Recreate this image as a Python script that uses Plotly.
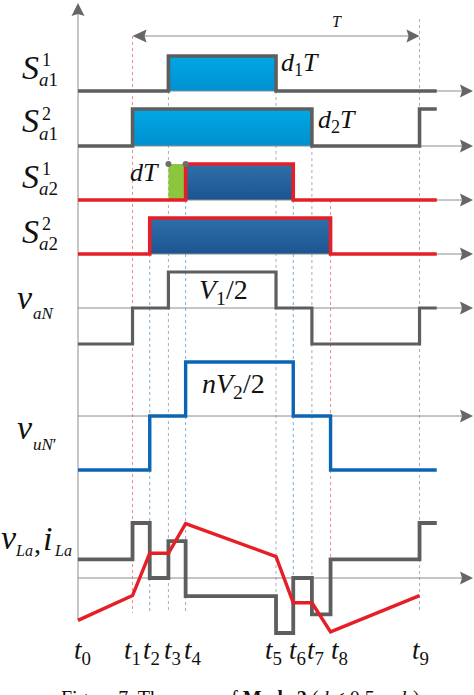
import plotly.graph_objects as go

# ------------------------------------------------------------------ data
T_NAMES = ["0", "1", "2", "3", "4", "5", "6", "7", "8", "9"]
T_MARKS = [0.0, 0.19, 0.25, 0.315, 0.375, 0.69, 0.75, 0.815, 0.88, 1.19]
T_END = 1.25

S_A1_1_TIME = [0.0, 0.315, 0.69, 1.25]
S_A1_1_STATE = [0, 1, 0, 0]
S_A1_2_TIME = [0.0, 0.19, 0.815, 1.19, 1.25]
S_A1_2_STATE = [0, 1, 0, 1, 1]
S_A2_1_TIME = [0.0, 0.375, 0.75, 1.25]
S_A2_1_STATE = [0, 1, 0, 0]
S_A2_2_TIME = [0.0, 0.25, 0.88, 1.25]
S_A2_2_STATE = [0, 1, 0, 0]
DT_TIME = [0.315, 0.375]

V_AN_TIME = [0.0, 0.19, 0.315, 0.69, 0.815, 1.19, 1.25]
V_AN_LEVEL = [-1, 0, 1, 0, -1, 0, 0]
V_UN_TIME = [0.0, 0.25, 0.375, 0.75, 0.88, 1.25]
V_UN_LEVEL = [-1, 0, 1, 0, -1, -1]
V_LA_TIME = [0.0, 0.19, 0.25, 0.315, 0.375, 0.69, 0.75, 0.815, 0.88, 1.19, 1.25]
V_LA_LEVEL = [0.34, 1, 0, 0.67, -0.33, -1, 0, -0.66, 0.34, 1, 1]
I_LA_TIME = [0.0, 0.19, 0.25, 0.315, 0.375, 0.69, 0.75, 0.815, 0.88, 1.19]
I_LA_LEVEL = [-0.77, -0.32, 0.45, 0.45, 0.99, 0.39, -0.45, -0.45, -0.98, -0.32]

# ------------------------------------------------------------------ layout / style
W, H = 474, 695
X0_PX, PX_PER_T = 78, 287
TIP_T = (473 - X0_PX) / PX_PER_T
FONT = "Liberation Serif, Times New Roman, Times, serif"

GRAY = "#5e5e5e"
RED = "#e61e26"
BLUE = "#0b65b5"
AXC = "#8c8c8c"
HEADC = "#666666"
LIGHT_FILL = ["#0090d0", "#00a8e4"]
DARK_FILL = ["#1b5590", "#2f70aa"]
GREEN = "#8cc63f"

# channel: (axis id, baseline px, px per unit)
CH = {
    "sa1_1": ("y2", 91, 35),
    "sa1_2": ("y3", 146, 37),
    "sa2_1": ("y4", 200, 36),
    "sa2_2": ("y5", 254, 36),
    "van": ("y6", 308, 36),
    "vun": ("y7", 416, 54),
    "vla": ("y8", 578, 55),
}
TARROW_PX = 36
GUIDE_BOTTOM = 613
GUIDE_COL = {"red": "#ee8a8a", "blue": "#7aaedc", "gray": "#acacac"}
GUIDES = [(1, "red", TARROW_PX), (2, "blue", CH["sa2_2"][1]), (3, "gray", CH["sa1_1"][1]),
          (4, "blue", CH["sa2_1"][1]), (5, "gray", CH["sa1_1"][1]), (6, "blue", CH["sa2_1"][1]),
          (7, "gray", CH["sa1_2"][1]), (8, "red", CH["sa2_1"][1]), (9, "gray", 19)]
T_LABEL_SHIFT = [4, 0, 2, 4, 7, -3, 4, 4, 9, 1]

fig = go.Figure()


def pulses(times, states):
    out = []
    for i in range(len(times) - 1):
        if states[i] == 1 and times[i + 1] < T_END:
            out.append((times[i], times[i + 1]))
    return out


def add_fill(ax, a, b, colors=None, solid=None):
    kw = dict(fillcolor=solid or colors[1])
    if colors:
        kw["fillgradient"] = dict(type="vertical", colorscale=[[0, colors[0]], [1, colors[1]]])
    fig.add_trace(go.Scatter(x=[a, a, b, b, a], y=[0, 1, 1, 0, 0], yaxis=ax, mode="lines",
                             line=dict(width=0), fill="toself", hoverinfo="skip", **kw))


# fills
for key, tt, ss, col in [("sa1_1", S_A1_1_TIME, S_A1_1_STATE, LIGHT_FILL),
                         ("sa1_2", S_A1_2_TIME, S_A1_2_STATE, LIGHT_FILL),
                         ("sa2_1", S_A2_1_TIME, S_A2_1_STATE, DARK_FILL),
                         ("sa2_2", S_A2_2_TIME, S_A2_2_STATE, DARK_FILL)]:
    for a, b in pulses(tt, ss):
        add_fill(CH[key][0], a, b, colors=col)
add_fill(CH["sa2_1"][0], DT_TIME[0], DT_TIME[1], solid=GREEN)

# guide lines
for idx, col, top in GUIDES:
    fig.add_trace(go.Scatter(x=[T_MARKS[idx]] * 2, y=[top, GUIDE_BOTTOM], yaxis="y", mode="lines",
                             line=dict(color=GUIDE_COL[col], width=1, dash="dot"), hoverinfo="skip"))

# thin axes
for key, (ax, base, g) in CH.items():
    fig.add_trace(go.Scatter(x=[0, TIP_T - 8 / PX_PER_T], y=[0, 0], yaxis=ax, mode="lines",
                             line=dict(color=AXC, width=1), hoverinfo="skip"))
fig.add_trace(go.Scatter(x=[0, 0], y=[620, 12], yaxis="y", mode="lines",
                         line=dict(color=AXC, width=1), hoverinfo="skip"))
fig.add_trace(go.Scatter(x=[T_MARKS[1] + 8 / PX_PER_T, T_MARKS[9] - 8 / PX_PER_T], y=[TARROW_PX] * 2,
                         yaxis="y", mode="lines", line=dict(color=AXC, width=1), hoverinfo="skip"))

# signals
def step(key, tt, vv, color, width):
    fig.add_trace(go.Scatter(x=tt, y=vv, yaxis=CH[key][0], mode="lines", line_shape="hv",
                             line=dict(color=color, width=width), hoverinfo="skip"))

step("sa1_1", S_A1_1_TIME, S_A1_1_STATE, GRAY, 3.6)
step("sa1_2", S_A1_2_TIME, S_A1_2_STATE, GRAY, 3.6)
step("sa2_1", S_A2_1_TIME, S_A2_1_STATE, RED, 3.6)
step("sa2_2", S_A2_2_TIME, S_A2_2_STATE, RED, 3.6)
step("van", V_AN_TIME, V_AN_LEVEL, GRAY, 3.2)
step("vun", V_UN_TIME, V_UN_LEVEL, BLUE, 3.4)
step("vla", V_LA_TIME, V_LA_LEVEL, GRAY, 3.8)
fig.add_trace(go.Scatter(x=I_LA_TIME, y=I_LA_LEVEL, yaxis=CH["vla"][0], mode="lines",
                         line=dict(color=RED, width=3.4), hoverinfo="skip"))
fig.add_trace(go.Scatter(x=DT_TIME, y=[1, 1], yaxis=CH["sa2_1"][0], mode="markers",
                         marker=dict(color="#6e6e6e", size=6), hoverinfo="skip"))

# arrowheads
shapes = []
RIGHT = "M-13,-6.5 L0,0 L-13,6.5 L-11,0 Z"
for key, (ax, base, g) in CH.items():
    shapes.append(dict(type="path", xref="x", yref=ax, xsizemode="pixel", ysizemode="pixel",
                       xanchor=TIP_T, yanchor=0, path=RIGHT, fillcolor=HEADC, line=dict(width=0)))
shapes.append(dict(type="path", xref="x", yref="y", xsizemode="pixel", ysizemode="pixel",
                   xanchor=0, yanchor=3, path="M-6.5,-13 L0,0 L6.5,-13 L0,-11 Z",
                   fillcolor=HEADC, line=dict(width=0)))
shapes.append(dict(type="path", xref="x", yref="y", xsizemode="pixel", ysizemode="pixel",
                   xanchor=T_MARKS[1], yanchor=TARROW_PX, path="M14,-6.5 L0,0 L14,6.5 L12,0 Z",
                   fillcolor=HEADC, line=dict(width=0)))
shapes.append(dict(type="path", xref="x", yref="y", xsizemode="pixel", ysizemode="pixel",
                   xanchor=T_MARKS[9], yanchor=TARROW_PX, path=RIGHT,
                   fillcolor=HEADC, line=dict(width=0)))

# annotations
ann = []


def lab(text, xpx, ypx, size, xanchor="center"):
    ann.append(dict(text=text, x=xpx / W, y=1 - ypx / H, xref="paper", yref="paper",
                    xanchor=xanchor, yanchor="middle", showarrow=False,
                    font=dict(family=FONT, size=size, color="#111111")))


S_ROWS = [("1", "a1", 67), ("2", "a1", 121), ("1", "a2", 176), ("2", "a2", 231)]
for sup, sub, yc in S_ROWS:
    lab("<i>S</i>", 30, yc, 34)
    lab(sup, 40, yc - 7, 18, "left")
    lab("<i>a</i>" + sub[1], 37, yc + 12, 19, "left")

lab("<i>v</i>", 24.5, 298, 34)
lab("<i>aN</i>", 31, 314, 17, "left")
lab("<i>v</i>", 24.5, 427, 34)
lab("<i>uN</i>′", 31, 444, 17, "left")
lab("<i>v</i>", 8.5, 537, 34)
lab("<i>La</i>", 13, 550, 16, "left")
lab(",", 37, 543, 28)
lab("<i>i</i>", 47, 538, 34)
lab("<i>La</i>", 52, 550, 16, "left")

lab("<i>d</i><sub>1</sub><i>T</i>", 279, 64, 26, "left")
lab("<i>d</i><sub>2</sub><i>T</i>", 316, 121, 26, "left")
lab("<i>dT</i>", 161, 172, 26, "right")
lab("<i>T</i>", 337, 22, 16)
lab("<i>V</i><sub>1</sub>/2", 223, 291, 28)
lab("<i>nV</i><sub>2</sub>/2", 233, 385, 28)

for k, name in enumerate(T_NAMES):
    ann.append(dict(text="<i>t</i><sub>" + name + "</sub>", x=T_MARKS[k], y=652, xref="x", yref="y",
                    xshift=T_LABEL_SHIFT[k], xanchor="center", yanchor="middle", showarrow=False,
                    font=dict(family=FONT, size=27, color="#111111")))

lab("Figure 7. The wave of <b>Mode 2</b> (<i>d</i> &lt; 0.5 − <i>d</i><sub>1</sub>)", 240, 699, 20)

layout_axes = {}
for key, (ax, base, g) in CH.items():
    name = "yaxis" + ax[1:]
    layout_axes[name] = dict(overlaying="y", range=[(base - H) / g, base / g], visible=False,
                             fixedrange=True)

fig.update_layout(
    width=W, height=H, margin=dict(l=0, r=0, t=0, b=0),
    paper_bgcolor="white", plot_bgcolor="white", showlegend=False,
    xaxis=dict(range=[-X0_PX / PX_PER_T, (W - X0_PX) / PX_PER_T], visible=False, fixedrange=True),
    yaxis=dict(range=[H, 0], visible=False, fixedrange=True),
    shapes=shapes, annotations=ann, **layout_axes,
)
fig.write_html("out.html", config={"displayModeBar": False},
               post_script="document.body.style.margin='0px';")
